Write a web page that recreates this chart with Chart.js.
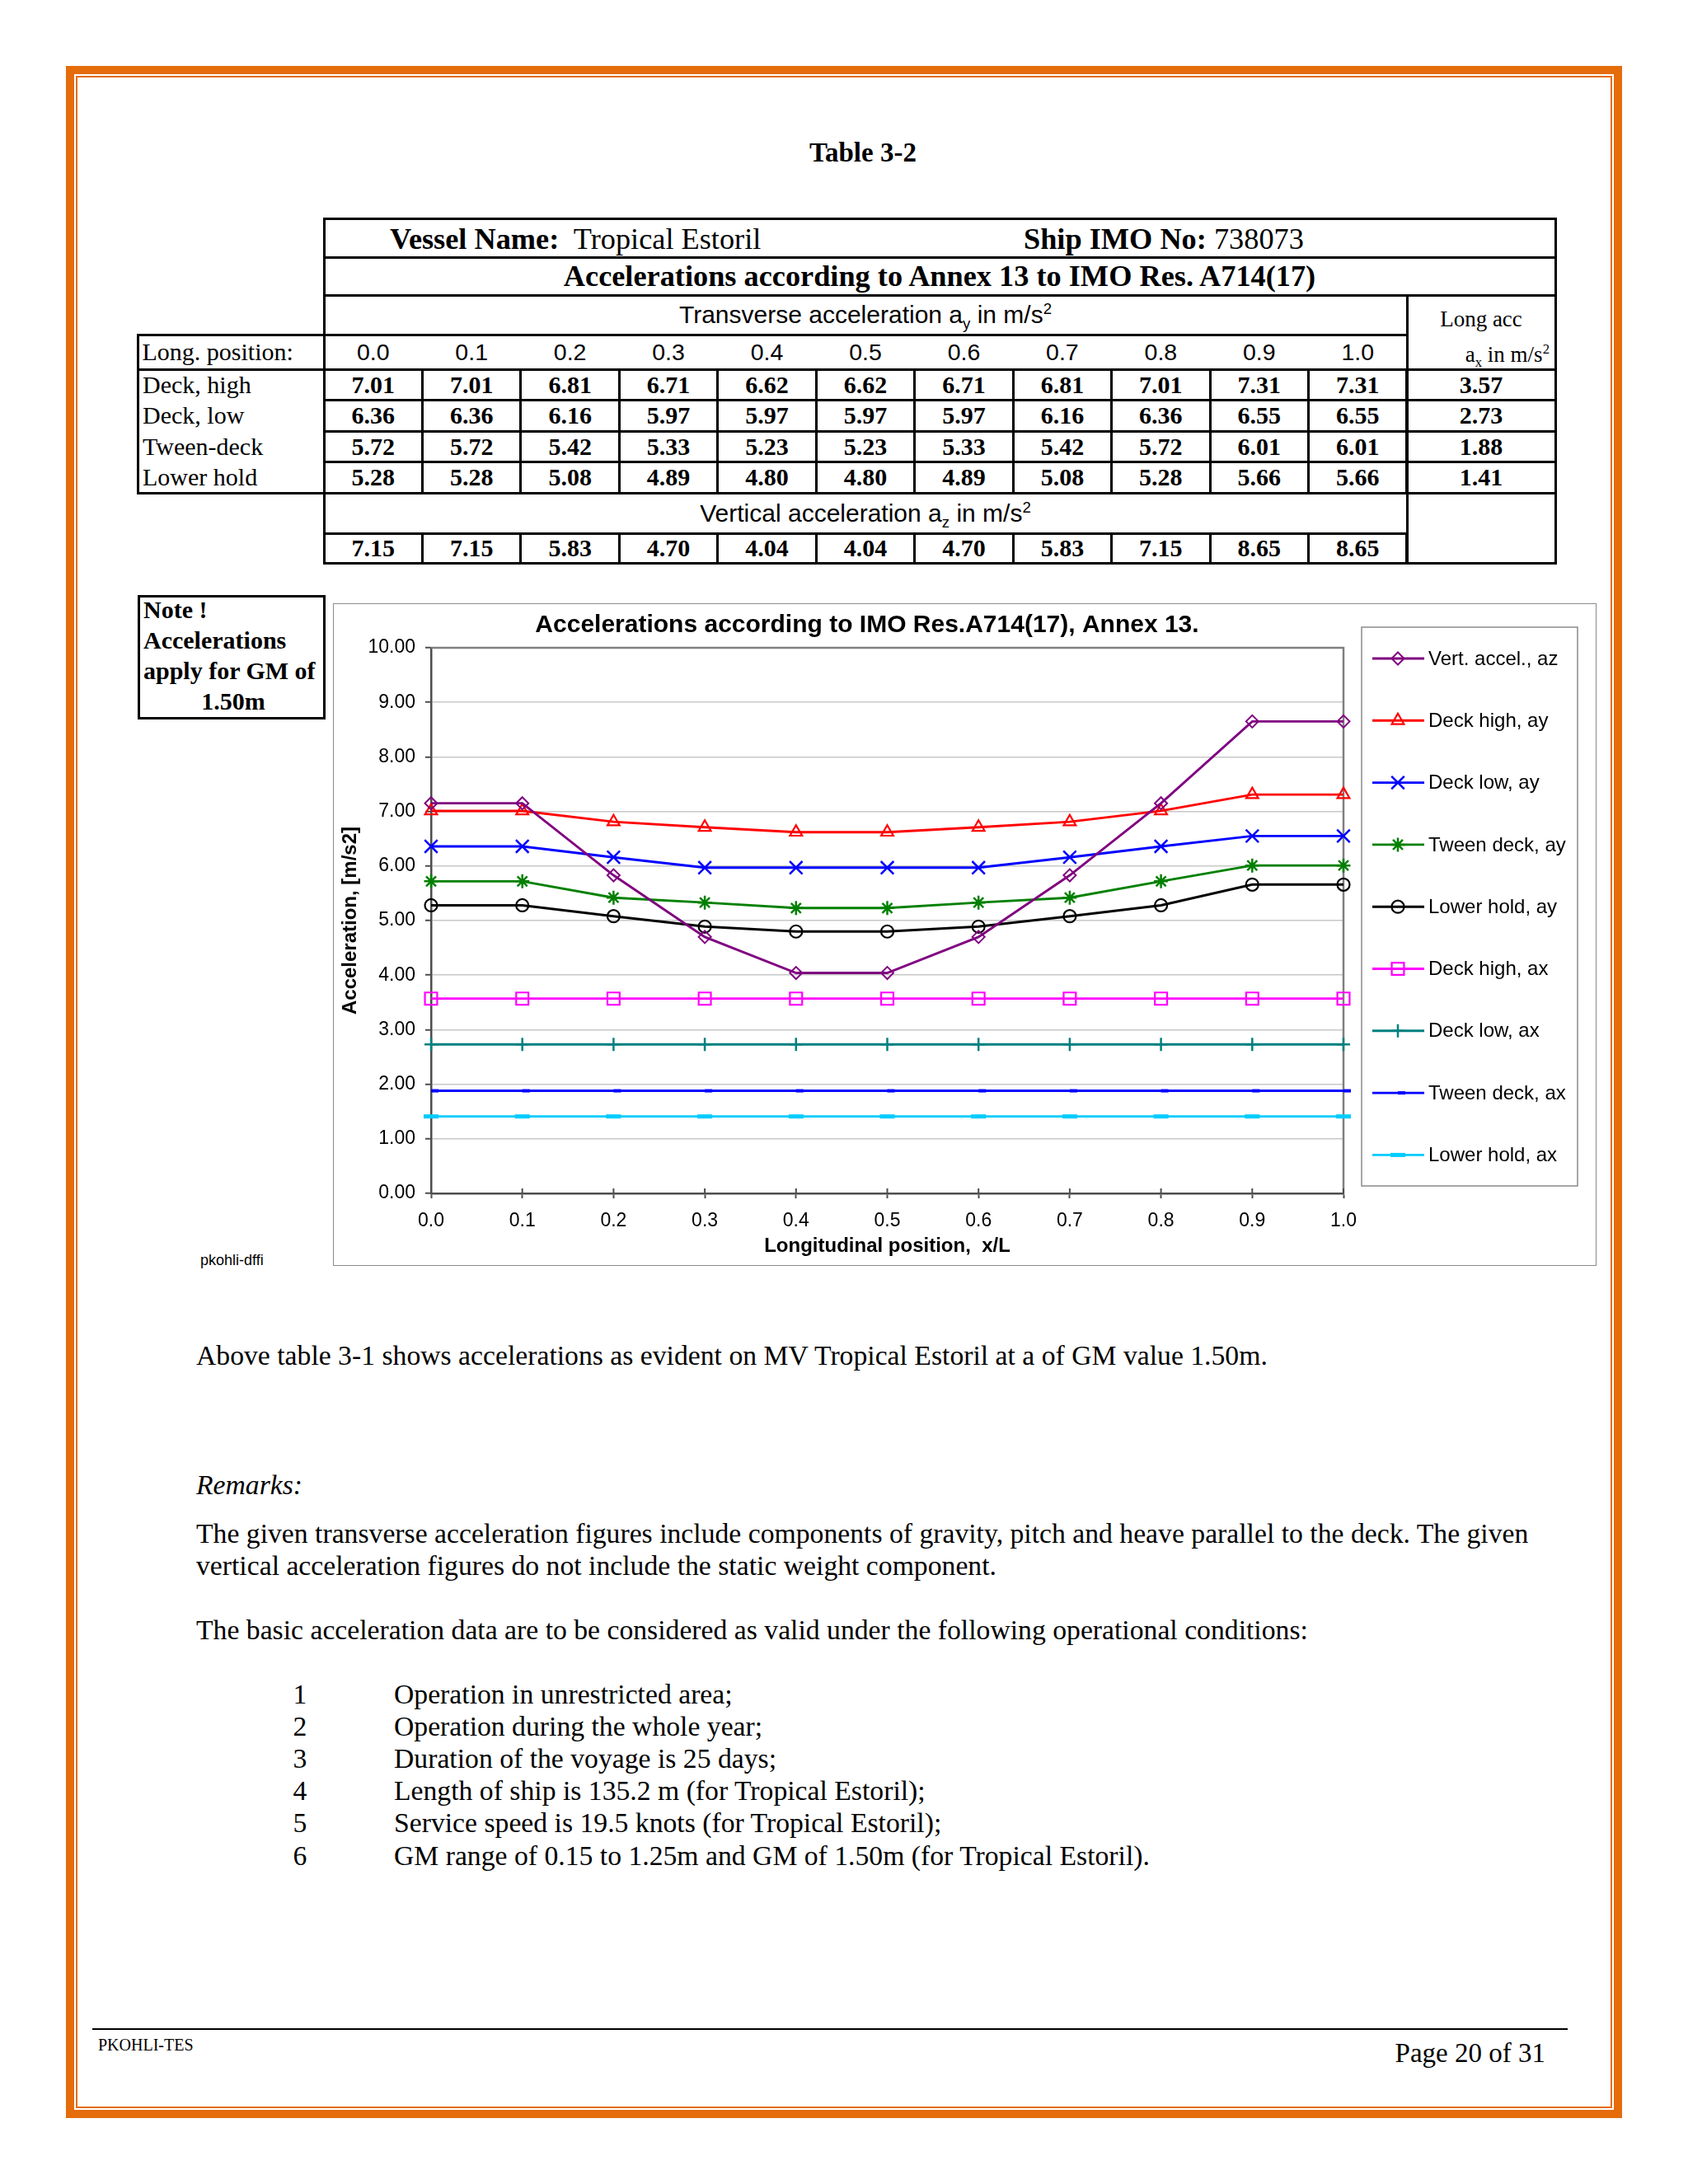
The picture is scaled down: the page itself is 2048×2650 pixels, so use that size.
<!DOCTYPE html>
<html>
<head>
<meta charset="utf-8">
<title>Table 3-2 - Accelerations</title>
<script src="https://cdn.jsdelivr.net/npm/chart.js"></script>
<style>
  html, body { margin: 0; padding: 0; background: #fff; }
  #page { position: relative; width: 2048px; height: 2650px; overflow: hidden; font-family: "Liberation Serif", "Times New Roman", serif; color: #000; }
  .frame-outer { position: absolute; left: 80px; top: 80px; width: 1888px; height: 2490px; border: 10px solid #e46c0a; box-sizing: border-box; }
  .frame-inner { position: absolute; left: 92px; top: 92px; width: 1864px; height: 2466px; border: 2px solid #e46c0a; box-sizing: border-box; }
  .cell { position: absolute; box-sizing: border-box; border: 3px solid #000; display: flex; align-items: center; justify-content: center; white-space: nowrap; }
  .txt { position: absolute; display: flex; align-items: center; justify-content: center; white-space: nowrap; }
  .sans { font-family: "Liberation Sans", Arial, sans-serif; }
  .big { font-size: 36.3px; }
  .hdr { font-size: 30px; }
  .lbl { font-size: 30px; justify-content: flex-start; padding-left: 4px; }
  .val { font-size: 30px; font-weight: bold; }
  .pos { font-size: 28.5px; }
  .acc { font-size: 27px; }
  sub, sup { font-size: 0.62em; line-height: 0; }
  .line { position: absolute; white-space: nowrap; font-size: 33.7px; line-height: 39px; }
  #chartFrame { position: absolute; left: 404px; top: 732px; width: 1533px; height: 804px; border: 1.5px solid #8a8a8a; box-sizing: border-box; }
  #chartWrap { position: absolute; left: 404px; top: 732px; width: 1533px; height: 804px; }
</style>
</head>
<body>
<div id="page">
  <div class="frame-outer"></div>
  <div class="frame-inner"></div>

  <div class="line" style="left:982px; top:166px; font-weight:bold; font-size:33px;">Table 3-2</div>

  <div style="position:absolute; left:167px; top:722px; width:228px; height:151px; border:3px solid #000; box-sizing:border-box; font-weight:bold; font-size:30px; line-height:37px; padding-left:4px;">
    <div style="margin-top:-4px;">Note !</div>
    <div>Accelerations</div>
    <div>apply for GM of</div>
    <div style="text-align:center;">1.50m</div>
  </div>

  <div id="chartFrame"></div>
  <div id="chartWrap"><canvas id="myChart"></canvas></div>
  <div class="sans" style="position:absolute; left:243px; top:1518px; font-size:18px; line-height:22px;">pkohli-dffi</div>

  <div class="line" style="left:238px; top:1625px;">Above table 3-1 shows accelerations as evident on MV Tropical Estoril at a of GM value 1.50m.</div>
  <div class="line" style="left:238px; top:1782px; font-style:italic;">Remarks:</div>
  <div class="line" style="left:238px; top:1841px; width:1690px; white-space:normal;">The given transverse acceleration figures include components of gravity, pitch and heave parallel to the deck. The given vertical acceleration figures do not include the static weight component.</div>
  <div class="line" style="left:238px; top:1958px;">The basic acceleration data are to be considered as valid under the following operational conditions:</div>

  <div style="position:absolute; left:112px; top:2461px; width:1790px; height:2px; background:#000;"></div>
  <div style="position:absolute; left:119px; top:2469px; font-size:20px; line-height:24px;">PKOHLI-TES</div>
  <div class="line" style="right:173px; top:2472px; font-size:33px;">Page 20 of 31</div>
</div>

<script>
document.addEventListener('DOMContentLoaded', () => {
  // longitudinal positions x/L
  const positions = [0.0, 0.1, 0.2, 0.3, 0.4, 0.5, 0.6, 0.7, 0.8, 0.9, 1.0];

  // transverse accelerations ay (m/s2)
  const deckHighAy = [7.01, 7.01, 6.81, 6.71, 6.62, 6.62, 6.71, 6.81, 7.01, 7.31, 7.31];
  const deckLowAy = [6.36, 6.36, 6.16, 5.97, 5.97, 5.97, 5.97, 6.16, 6.36, 6.55, 6.55];
  const tweenDeckAy = [5.72, 5.72, 5.42, 5.33, 5.23, 5.23, 5.33, 5.42, 5.72, 6.01, 6.01];
  const lowerHoldAy = [5.28, 5.28, 5.08, 4.89, 4.80, 4.80, 4.89, 5.08, 5.28, 5.66, 5.66];

  // vertical acceleration az
  const vertAccelAz = [7.15, 7.15, 5.83, 4.70, 4.04, 4.04, 4.70, 5.83, 7.15, 8.65, 8.65];

  // long acc ax (one value per level, same along the ship)
  const longAccAx = [3.57, 2.73, 1.88, 1.41];
  const deckHighAx = [3.57, 3.57, 3.57, 3.57, 3.57, 3.57, 3.57, 3.57, 3.57, 3.57, 3.57];
  const deckLowAx = [2.73, 2.73, 2.73, 2.73, 2.73, 2.73, 2.73, 2.73, 2.73, 2.73, 2.73];
  const tweenDeckAx = [1.88, 1.88, 1.88, 1.88, 1.88, 1.88, 1.88, 1.88, 1.88, 1.88, 1.88];
  const lowerHoldAx = [1.41, 1.41, 1.41, 1.41, 1.41, 1.41, 1.41, 1.41, 1.41, 1.41, 1.41];

  const rowLabels = ['Deck, high', 'Deck, low', 'Tween-deck', 'Lower hold'];
  const seriesNames = ['Vert. accel., az', 'Deck high, ay', 'Deck low, ay', 'Tween deck, ay', 'Lower hold, ay',
    'Deck high, ax', 'Deck low, ax', 'Tween deck, ax', 'Lower hold, ax'];
  const yTicks = [0, 1, 2, 3, 4, 5, 6, 7, 8, 9, 10];

  const conditions = [
    'Operation in unrestricted area;',
    'Operation during the whole year;',
    'Duration of the voyage is 25 days;',
    'Length of ship is 135.2 m (for Tropical Estoril);',
    'Service speed is 19.5 knots (for Tropical Estoril);',
    'GM range of 0.15 to 1.25m and GM of 1.50m (for Tropical Estoril).'
  ];

  const page = document.getElementById('page');

  // ---- table ----
  function addBox(x0, y0, x1, y1, cls, html, style) {
    const d = document.createElement('div');
    d.className = cls;
    d.style.left = x0 + 'px';
    d.style.top = y0 + 'px';
    d.style.width = (x1 - x0) + 'px';
    d.style.height = (y1 - y0) + 'px';
    if (style) Object.assign(d.style, style);
    // wrap in a span so flex does not split the text runs
    if (html != null && html !== '') d.innerHTML = '<span>' + html + '</span>';
    page.appendChild(d);
    return d;
  }
  // borders are 3px, centred on the grid line
  const cell = (x0, y0, x1, y1, html, cls) => addBox(x0 - 1.5, y0 - 1.5, x1 + 1.5, y1 + 1.5, 'cell ' + (cls || ''), html);
  const text = (x0, y0, x1, y1, html, cls, style) => addBox(x0, y0, x1, y1, 'txt ' + (cls || ''), html, style);

  const colStart = 393;
  const colW = (1707 - 393) / positions.length;
  const colX = (i) => colStart + i * colW;
  const rowY = [448, 485.5, 523, 560.5, 598];

  cell(393, 265, 1887, 312, '');
  text(473, 265, 1100, 314, '<b>Vessel Name:</b>&nbsp; Tropical Estoril', 'big', { justifyContent: 'flex-start' });
  text(1242, 265, 1700, 314, '<b>Ship IMO No:</b> 738073', 'big', { justifyContent: 'flex-start' });
  cell(393, 312, 1887, 358, '<b>Accelerations according to Annex 13 to IMO Res. A714(17)</b>', 'big');
  cell(393, 358, 1707, 406, 'Transverse acceleration a<sub>y</sub> in m/s<sup>2</sup>', 'sans hdr');
  cell(1707, 358, 1887, 448, '');
  text(1707, 368, 1887, 406, 'Long acc', 'acc');
  text(1707, 410, 1880, 450, 'a<sub>x</sub> in m/s<sup>2</sup>', 'acc', { justifyContent: 'flex-end' });

  cell(393, 406, 1707, 448, '');
  cell(167, 406, 393, 448, 'Long. position:', 'lbl');
  positions.forEach((p, i) => text(colX(i), 406, colX(i + 1), 448, p.toFixed(1), 'sans pos'));

  cell(167, 448, 393, 598, '');
  const tableRows = [deckHighAy, deckLowAy, tweenDeckAy, lowerHoldAy];
  tableRows.forEach((vals, r) => {
    text(171, rowY[r], 393, rowY[r + 1], rowLabels[r], 'lbl', { padding: '0 0 0 2px' });
    vals.forEach((v, i) => cell(colX(i), rowY[r], colX(i + 1), rowY[r + 1], v.toFixed(2), 'val'));
    cell(1707, rowY[r], 1887, rowY[r + 1], longAccAx[r].toFixed(2), 'val');
  });

  cell(393, 598, 1707, 647, 'Vertical acceleration a<sub>z</sub> in m/s<sup>2</sup>', 'sans hdr');
  cell(1707, 598, 1887, 683, '');
  vertAccelAz.forEach((v, i) => cell(colX(i), 647, colX(i + 1), 683, v.toFixed(2), 'val'));

  // ---- numbered conditions ----
  conditions.forEach((c, i) => {
    const top = 2036 + i * 39.2;
    text(340, top, 388, top + 39, String(i + 1), '', { fontSize: '33.7px' });
    text(478, top, 1900, top + 39, c, '', { fontSize: '33.7px', justifyContent: 'flex-start' });
  });

  // ---- chart ----
  Chart.defaults.font.family = '"Liberation Sans", Arial, sans-serif';
  Chart.defaults.color = '#000';

  const seriesValues = [vertAccelAz, deckHighAy, deckLowAy, tweenDeckAy, lowerHoldAy,
    deckHighAx, deckLowAx, tweenDeckAx, lowerHoldAx];
  const looks = [
    { color: '#800080', pointStyle: 'rectRot', radius: 7.5, pw: 2 },
    { color: '#ff0000', pointStyle: 'triangle', radius: 8.5, pw: 2.2 },
    { color: '#0000ff', pointStyle: 'crossRot', radius: 11, pw: 2.5 },
    { color: '#008000', pointStyle: 'star', radius: 8.5, pw: 2.5 },
    { color: '#000000', pointStyle: 'circle', radius: 7.5, pw: 2.2 },
    { color: '#ff00ff', pointStyle: 'rect', radius: 10.5, pw: 2.2 },
    { color: '#008080', pointStyle: 'cross', radius: 8, pw: 2.5 },
    { color: '#0000ff', pointStyle: 'dash', radius: 9, pw: 4 },
    { color: '#00ccff', pointStyle: 'line', radius: 9, pw: 5 }
  ];

  const datasets = seriesNames.map((name, k) => ({
    label: name,
    data: positions.map((p, i) => ({ x: p, y: seriesValues[k][i] })),
    borderColor: looks[k].color,
    backgroundColor: looks[k].color,
    borderWidth: 2.9,
    pointStyle: looks[k].pointStyle,
    pointRadius: looks[k].radius,
    pointBorderWidth: looks[k].pw,
    pointBorderColor: looks[k].color,
    pointBackgroundColor: 'rgba(255,255,255,0)',
    tension: 0,
    clip: false
  }));

  // grey frame on top and right of the plot area, x ticks crossing the axis
  const plotFrame = {
    id: 'plotFrame',
    beforeDatasetsDraw(chart) {
      const { ctx, chartArea: a } = chart;
      ctx.save();
      ctx.strokeStyle = '#808080';
      ctx.lineWidth = 2.5;
      ctx.beginPath();
      ctx.moveTo(a.left, a.top);
      ctx.lineTo(a.right, a.top);
      ctx.lineTo(a.right, a.bottom);
      ctx.stroke();
      ctx.strokeStyle = '#4d4d4d';
      ctx.lineWidth = 2;
      ctx.beginPath();
      chart.scales.x.ticks.forEach((t) => {
        const px = chart.scales.x.getPixelForValue(t.value);
        ctx.moveTo(px, a.bottom - 6);
        ctx.lineTo(px, a.bottom);
      });
      ctx.stroke();
      ctx.restore();
    }
  };

  // chart title and the boxed legend on the right
  const titleAndLegend = {
    id: 'titleAndLegend',
    afterDraw(chart) {
      const ctx = chart.ctx;
      ctx.save();
      ctx.fillStyle = '#000';
      ctx.font = 'bold 30px "Liberation Sans", Arial, sans-serif';
      ctx.textAlign = 'center';
      ctx.textBaseline = 'middle';
      ctx.fillText('Accelerations according to IMO Res.A714(17), Annex 13.', 648, 27);

      ctx.strokeStyle = '#8a8a8a';
      ctx.lineWidth = 1.5;
      ctx.strokeRect(1248, 29, 262, 678);

      ctx.font = '24px "Liberation Sans", Arial, sans-serif';
      ctx.textAlign = 'left';
      chart.data.datasets.forEach((ds, k) => {
        const y = 67 + k * 75.3;
        ctx.strokeStyle = ds.borderColor;
        ctx.lineWidth = ds.borderWidth;
        ctx.beginPath();
        ctx.moveTo(1261, y);
        ctx.lineTo(1324, y);
        ctx.stroke();
        if (Chart.helpers && Chart.helpers.drawPoint) {
          ctx.fillStyle = 'rgba(255,255,255,0)';
          ctx.lineWidth = ds.pointBorderWidth;
          Chart.helpers.drawPoint(ctx, {
            pointStyle: ds.pointStyle,
            radius: ds.pointRadius,
            borderWidth: ds.pointBorderWidth,
            rotation: 0
          }, 1292, y);
        }
        ctx.fillStyle = '#000';
        ctx.fillText(ds.label, 1329, y + 1);
      });
      ctx.restore();
    }
  };

  new Chart(document.getElementById('myChart'), {
    type: 'line',
    data: { datasets: datasets },
    options: {
      responsive: true,
      maintainAspectRatio: false,
      animation: false,
      layout: { padding: { left: 0, top: 54, right: 307, bottom: 0 } },
      plugins: {
        legend: { display: false },
        title: { display: false },
        tooltip: { enabled: false }
      },
      scales: {
        x: {
          type: 'linear',
          min: positions[0],
          max: positions[positions.length - 1],
          afterBuildTicks: (s) => { s.ticks = positions.map((p) => ({ value: p })); },
          ticks: {
            callback: (v) => Number(v).toFixed(1),
            font: { size: 23 },
            padding: 14,
            maxRotation: 0,
            autoSkip: false
          },
          grid: { drawOnChartArea: false, tickLength: 6, tickColor: '#4d4d4d', tickWidth: 2 },
          border: { color: '#4d4d4d', width: 2.5 },
          title: {
            display: true,
            text: 'Longitudinal position,  x/L',
            font: { size: 24, weight: 'bold' },
            padding: { top: 0, bottom: 9 }
          },
          afterFit: (s) => { s.height = 88; }
        },
        y: {
          min: yTicks[0],
          max: yTicks[yTicks.length - 1],
          afterBuildTicks: (s) => { s.ticks = yTicks.map((v) => ({ value: v })); },
          ticks: {
            callback: (v) => Number(v).toFixed(2),
            font: { size: 23 },
            padding: 12
          },
          grid: { color: '#c8c8c8', lineWidth: 1.5, tickLength: 7, tickColor: '#4d4d4d', tickWidth: 2 },
          border: { color: '#4d4d4d', width: 2.5 },
          title: {
            display: true,
            text: 'Acceleration, [m/s2]',
            font: { size: 24, weight: 'bold' },
            padding: { top: 7, bottom: 0 }
          },
          afterFit: (s) => { s.width = 119; }
        }
      }
    },
    plugins: [plotFrame, titleAndLegend]
  });
});
</script>
</body>
</html>
